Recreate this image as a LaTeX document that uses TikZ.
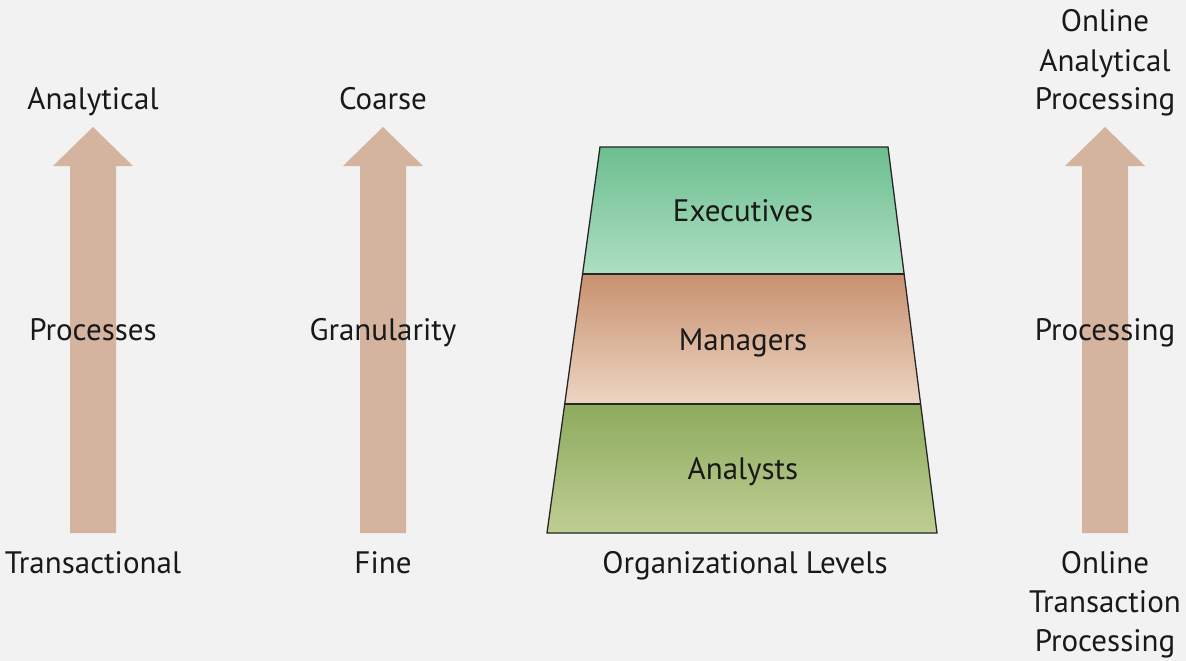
\documentclass[tikz,border=0pt]{standalone}
\usepackage{fontspec}
\setmainfont{PT Sans}
\begin{document}
\begin{tikzpicture}[x=1pt,y=-1pt,
  lbl/.style={font=\fontsize{31}{39}\selectfont, text=black!90, inner sep=0pt, anchor=base},
  layer/.style={draw=black!85, line width=1.3pt, line join=miter}]
\definecolor{bgc}{HTML}{F2F2F2}
\definecolor{arrowc}{HTML}{D4B39F}
\definecolor{exT}{HTML}{6CBE8F}
\definecolor{exB}{HTML}{AEDFC3}
\definecolor{maT}{HTML}{C8916F}
\definecolor{maB}{HTML}{EDD5C3}
\definecolor{anT}{HTML}{8DAB5E}
\definecolor{anB}{HTML}{BFCE93}
\useasboundingbox[fill=bgc] (0,0) rectangle (1186,661);
% arrows
\foreach \cx in {93,383,1105}{
  \fill[arrowc] (\cx-23,533) -- (\cx-23,166) -- (\cx-40,166) -- (\cx,127) -- (\cx+40,166) -- (\cx+23,166) -- (\cx+23,533) -- cycle;
}
% trapezoid layers
\shade[top color=exT, bottom color=exB] (600,147) -- (888,147) -- (904.1,274) -- (582.6,274) -- cycle;
\shade[top color=maT, bottom color=maB] (582.6,274) -- (904.1,274) -- (920.6,404) -- (564.7,404) -- cycle;
\shade[top color=anT, bottom color=anB] (564.7,404) -- (920.6,404) -- (937,533) -- (547,533) -- cycle;
\draw[layer] (600,147) -- (888,147) -- (937,533) -- (547,533) -- cycle;
\draw[layer] (582.6,274) -- (904.1,274);
\draw[layer] (564.7,404) -- (920.6,404);
% labels (placed on their baselines)
\node[lbl] (a1) at (93,110) {Analytical};
\node[lbl] (a2) at (93,340) {Processes};
\node[lbl] (a3) at (93,573) {Transactional};
\node[lbl] (g1) at (383,110) {Coarse};
\node[lbl] (g2) at (383,340) {Granularity};
\node[lbl] (g3) at (383,573) {Fine};
\node[lbl] (ex) at (743,221) {Executives};
\node[lbl] (ma) at (743,350) {Managers};
\node[lbl] (an) at (743,479) {Analysts};
\node[lbl] (ol) at (745,573) {Organizational Levels};
\node[lbl] (o1a) at (1105,32) {Online};
\node[lbl] (o1b) at (1105,71) {Analytical};
\node[lbl] (o1c) at (1105,110) {Processing};
\node[lbl] (o2) at (1105,340) {Processing};
\node[lbl] (o3a) at (1105,573) {Online};
\node[lbl] (o3b) at (1105,612) {Transaction};
\node[lbl] (o3c) at (1105,651) {Processing};
\end{tikzpicture}
\end{document}
